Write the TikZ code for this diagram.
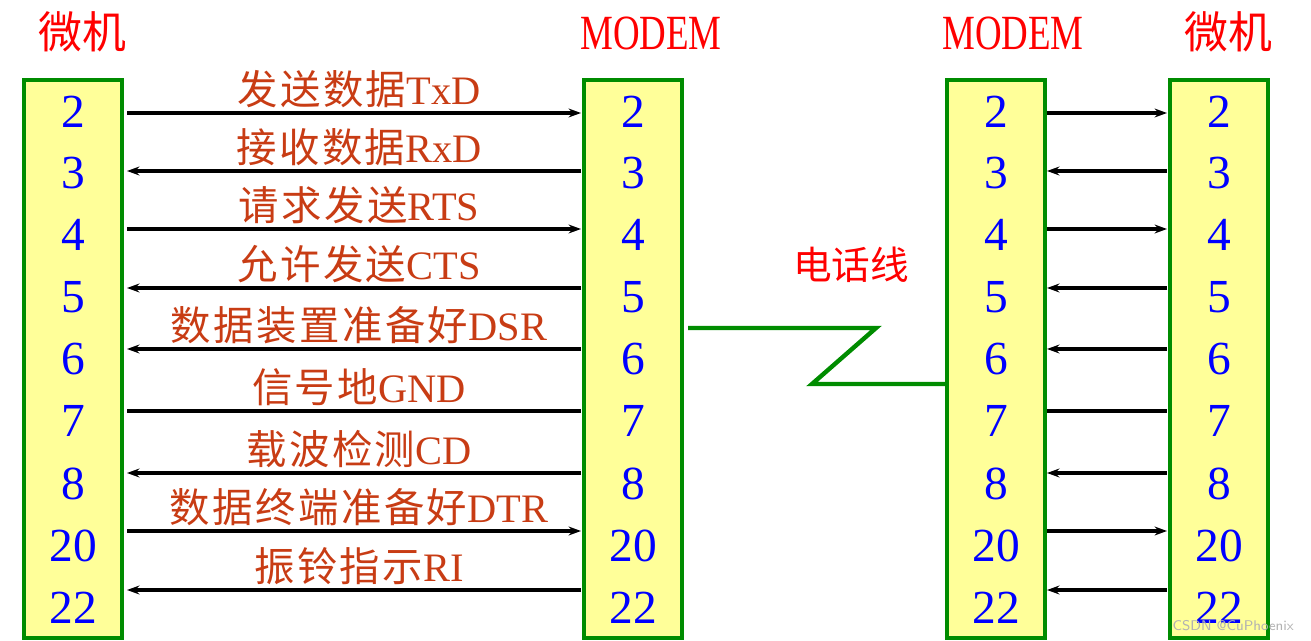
\documentclass[tikz,border=0pt]{standalone}
\usepackage{fontspec}
\setmainfont{Liberation Serif}
\newfontfamily\cjk{Noto Sans CJK SC}
\usetikzlibrary{arrows.meta}
\definecolor{lab}{HTML}{C83C14}
\definecolor{grn}{HTML}{008C00}
\definecolor{fillY}{HTML}{FFFF99}
\tikzset{
 box/.style={draw=grn,line width=2.2pt,fill=fillY},
 num/.style={text=blue,font=\fontsize{27}{27}\selectfont},
 lbl/.style={text=lab,font=\fontsize{23}{23}\selectfont},
 ttl/.style={text=red,font=\fontsize{25}{25}\selectfont\cjk},
 mdm/.style={text=red,font=\fontsize{28}{28}\selectfont,xscale=0.75},
 sig/.style={line width=1.9pt,-{Stealth[length=7pt,width=5pt]}},
 pl/.style={line width=1.9pt},
 tel/.style={draw=grn,line width=2.5pt}
}
\begin{document}
\begin{tikzpicture}[x=0.02cm,y=-0.02cm]
\useasboundingbox (0,0) rectangle (1311,641);
\foreach \n/\x in {A/24,B/584,C/947,D/1170}{
 \draw[box] (\x,80) rectangle (\x+98,638);
}
\node[ttl] (t1) at (82,32) {微机};
\node[ttl] (t4) at (1228,32) {微机};
\node[mdm] (t2) at (651,33) {MODEM};
\node[mdm] (t3) at (1013,33) {MODEM};
\foreach \p/\y [count=\i] in {2/112,3/173,4/235,5/297,6/359,7/421,8/484,20/546,22/608}{
 \node[num] (a\i) at (73,\y) {\p};
 \node[num] (b\i) at (633,\y) {\p};
 \node[num] (c\i) at (996,\y) {\p};
 \node[num] (d\i) at (1219,\y) {\p};
}
\foreach \y/\d/\c/\t [count=\i] in {113/r/发送数据/TxD,171/l/接收数据/RxD,229/r/请求发送/RTS,288/l/允许发送/CTS,349/l/数据装置准备好/DSR,411/n/信号地/GND,473/l/载波检测/CD,531/r/数据终端准备好/DTR,590/l/振铃指示/RI}{
 \coordinate (la\i) at (127,\y);
 \coordinate (lb\i) at (581,\y);
 \coordinate (ra\i) at (1047,\y);
 \coordinate (rb\i) at (1167,\y);
 \node[lbl,anchor=south,inner sep=1pt] (s\i) at (359,\y-3) {{\cjk\addfontfeature{LetterSpace=6}\c}\t};
 \if\d r
  \draw[sig] (la\i) -- (lb\i); \draw[sig] (ra\i) -- (rb\i);
 \else\if\d l
  \draw[sig] (lb\i) -- (la\i); \draw[sig] (rb\i) -- (ra\i);
 \else
  \draw[pl] (la\i) -- (lb\i); \draw[pl] (ra\i) -- (rb\i);
 \fi\fi
}
\node[text=red,font=\fontsize{22}{22}\selectfont\cjk] (tl) at (851,265) {电话线};
\coordinate (p1) at (688,328);
\coordinate (p2) at (876,328);
\coordinate (p3) at (812,384);
\coordinate (p4) at (945,384);
\draw[tel] (p1) -- (p2) -- (p3) -- (p4);
\node[text=gray!60,font=\fontsize{8}{8}\selectfont\sffamily,anchor=east] (w) at (1300,626) {CSDN @CuPhoenix};
\end{tikzpicture}
\end{document}
